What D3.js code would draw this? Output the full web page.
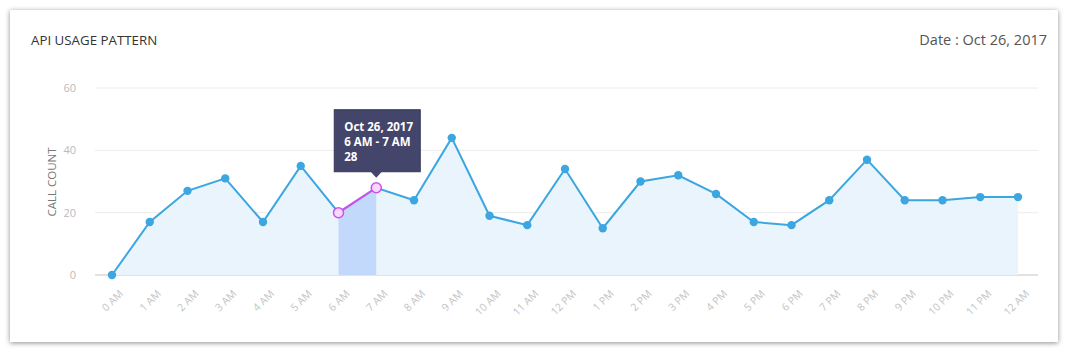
<!DOCTYPE html>
<html>
<head>
<meta charset="utf-8">
<script src="https://cdn.jsdelivr.net/npm/d3@7"></script>
<style>
  body { margin: 0; background: #fff; font-family: "Open Sans", Lato, sans-serif; }
  .card {
    position: absolute; left: 10px; top: 10px; width: 1048px; height: 332px;
    background: #fff; box-shadow: 0 1px 5px rgba(0,0,0,0.45);
  }
</style>
</head>
<body>
<div class="card"></div>
<svg id="chart" width="1069" height="352" style="position:absolute;left:0;top:0"></svg>
<script>
// data
var hours = ["0 AM","1 AM","2 AM","3 AM","4 AM","5 AM","6 AM","7 AM","8 AM","9 AM","10 AM","11 AM",
             "12 PM","1 PM","2 PM","3 PM","4 PM","5 PM","6 PM","7 PM","8 PM","9 PM","10 PM","11 PM","12 AM"];
var callCount = [0,17,27,31,17,35,20,28,24,44,19,16,34,15,30,32,26,17,16,24,37,24,24,25,25];
var yTicks = [0,20,40,60];
var hiliteFrom = 6, hiliteTo = 7;

var font = "'Open Sans', Lato, sans-serif";
var svg = d3.select("#chart");

var margin = {left: 95, right: 31, top: 88, bottom: 77};
var plotW = 1069 - margin.left - margin.right,
    plotH = 352 - margin.top - margin.bottom;

var g = svg.append("g")
  .attr("transform", "translate(" + margin.left + "," + margin.top + ")");

var x = d3.scalePoint()
  .domain(d3.range(hours.length))
  .range([17, 923]);

var y = d3.scaleLinear()
  .domain([0, 60])
  .range([plotH, 0]);

// title + date
svg.append("text").attr("x", 31).attr("y", 45)
  .style("font-size", "13.3px").style("fill", "#333").text("API USAGE PATTERN");
svg.append("text").attr("x", 1047).attr("y", 45).attr("text-anchor", "end")
  .style("font-size", "14.5px").style("fill", "#555").text("Date : Oct 26, 2017");

// grid
g.selectAll(".grid").data(yTicks).enter().append("line")
  .attr("x1", 0).attr("x2", plotW)
  .attr("y1", function(d) { return y(d); }).attr("y2", function(d) { return y(d); })
  .attr("stroke", function(d) { return d === 0 ? "#d8d8d8" : "#ececec"; })
  .attr("stroke-width", function(d) { return d === 0 ? 1.5 : 1; });

// y axis labels
var yAxis = g.append("g").attr("transform", "translate(-16,0)")
  .call(d3.axisLeft(y).tickValues(yTicks).tickSize(0));
yAxis.select(".domain").remove();
yAxis.selectAll("text").style("font-size", "11px").style("fill", "#bbb")
  .style("font-family", font);

svg.append("text")
  .attr("transform", "translate(56,182) rotate(-90)")
  .attr("text-anchor", "middle")
  .style("font-size", "11.5px").style("fill", "#777")
  .text("CALL COUNT");

// x axis
var xAxis = g.append("g").attr("transform", "translate(0," + (plotH + 14) + ")")
  .call(d3.axisBottom(x).tickSize(0).tickFormat(function(i) { return hours[i]; }));
xAxis.select(".domain").remove();
xAxis.selectAll("text")
  .attr("transform", "translate(4,-2) rotate(-45)")
  .style("text-anchor", "end")
  .style("font-size", "10.5px").style("fill", "#c4c4c4")
  .style("font-family", font);

var idx = d3.range(callCount.length);

// area
var area = d3.area()
  .x(function(i) { return x(i); })
  .y0(plotH)
  .y1(function(i) { return y(callCount[i]); });

g.append("path").datum(idx)
  .attr("d", area)
  .attr("fill", "#eaf4fc");

// highlighted segment area
g.append("path").datum([hiliteFrom, hiliteTo])
  .attr("d", area)
  .attr("fill", "#c3d9fb");

// line
var line = d3.line()
  .x(function(i) { return x(i); })
  .y(function(i) { return y(callCount[i]); });

g.append("path").datum(idx)
  .attr("d", line)
  .attr("fill", "none")
  .attr("stroke", "#3ca6e0")
  .attr("stroke-width", 2);

g.append("path").datum([hiliteFrom, hiliteTo])
  .attr("d", line)
  .attr("fill", "none")
  .attr("stroke", "#d24ef0")
  .attr("stroke-width", 2);

// dots
g.selectAll(".dot").data(idx).enter().append("circle")
  .attr("cx", function(i) { return x(i); })
  .attr("cy", function(i) { return y(callCount[i]); })
  .attr("r", function(i) { return (i === hiliteFrom || i === hiliteTo) ? 5 : 4.2; })
  .attr("fill", function(i) { return (i === hiliteFrom || i === hiliteTo) ? "#f8d8fc" : "#3ca6e0"; })
  .attr("stroke", function(i) { return (i === hiliteFrom || i === hiliteTo) ? "#d24ef0" : "none"; })
  .attr("stroke-width", 1.5);

// tooltip
var tx = x(hiliteTo), ty = y(callCount[hiliteTo]);
var tip = g.append("g").attr("transform", "translate(" + tx + "," + (ty - 9) + ")");
var boxW = 86, boxH = 62, boxLeft = -42;
tip.append("rect")
  .attr("x", boxLeft).attr("y", -boxH - 7)
  .attr("width", boxW).attr("height", boxH)
  .attr("fill", "#44456a").attr("stroke", "#35365a");
tip.append("path")
  .attr("d", "M-6,-7.5 L0,-1 L6,-7.5 Z")
  .attr("fill", "#44456a");
var tipLines = ["Oct 26, 2017", hours[hiliteFrom] + " - " + hours[hiliteTo], String(callCount[hiliteTo])];
tip.selectAll(".tl").data(tipLines).enter().append("text")
  .attr("x", boxLeft + 10)
  .attr("y", function(d, i) { return -boxH + 14 + i * 15; })
  .style("font-size", "11.5px").style("font-weight", "bold").style("fill", "#fff")
  .text(function(d) { return d; });
</script>
</body>
</html>
